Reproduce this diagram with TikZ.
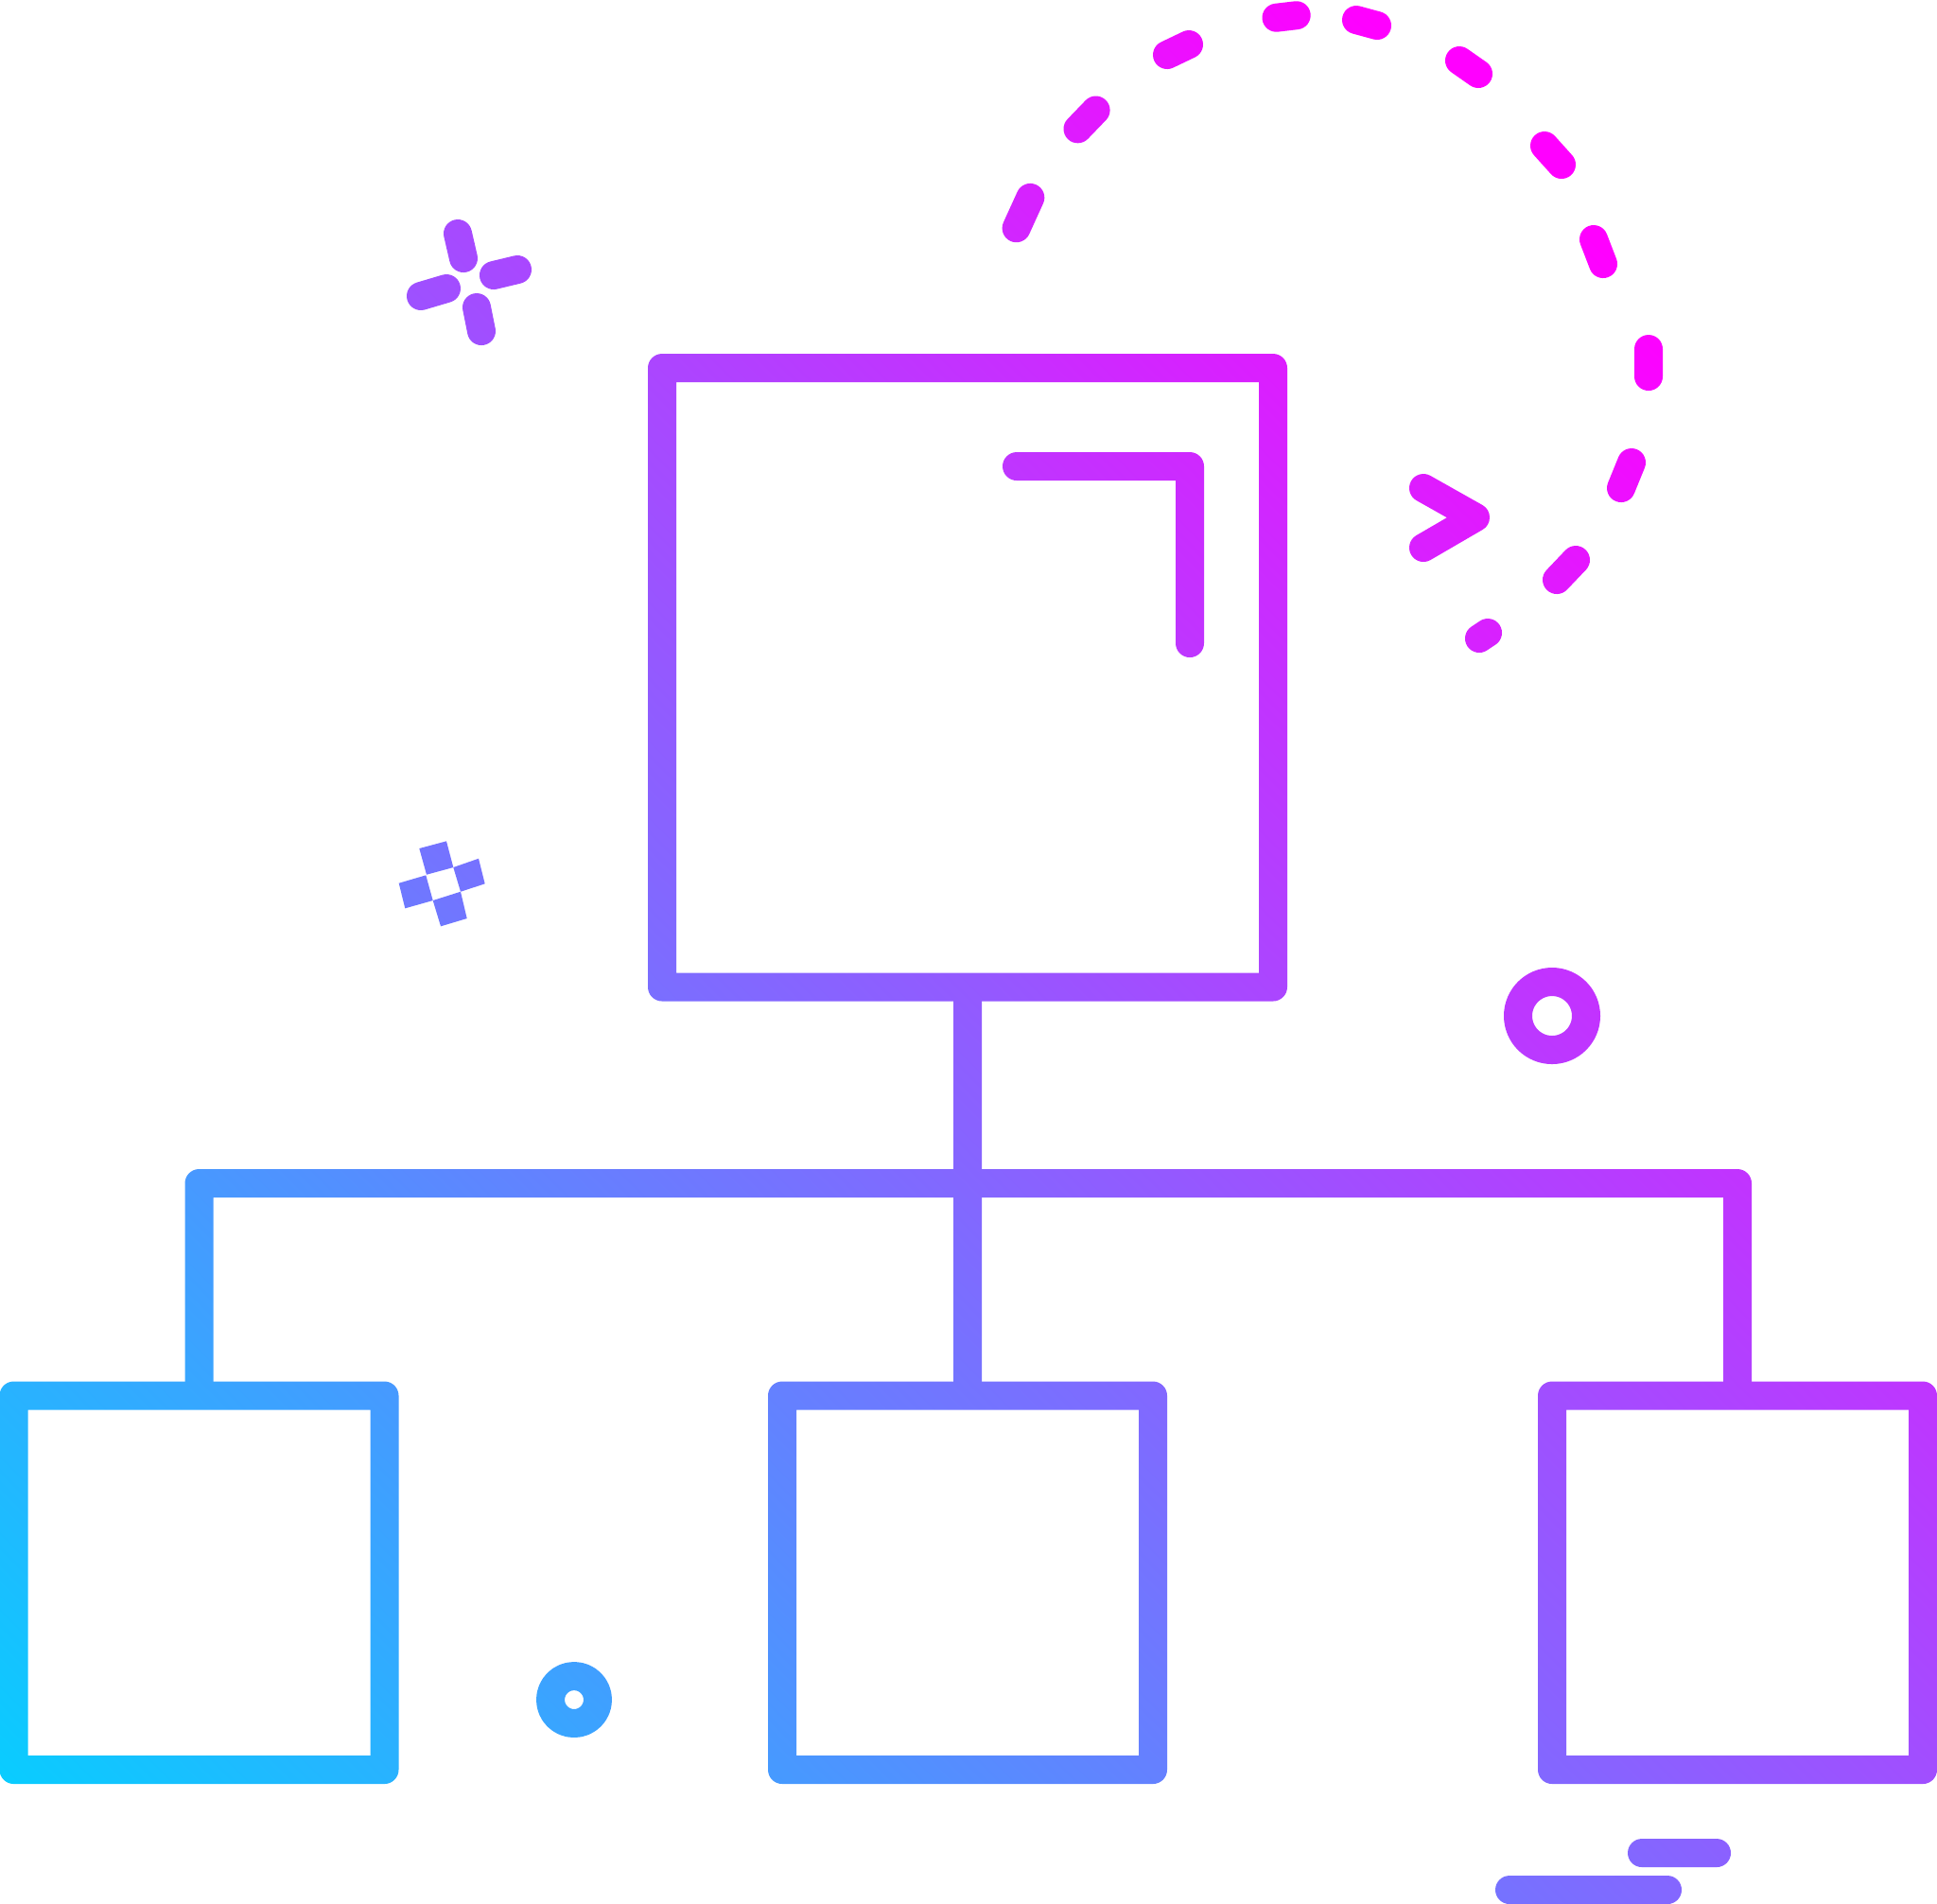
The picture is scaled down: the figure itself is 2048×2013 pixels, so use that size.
\documentclass[tikz,border=0pt]{standalone}
\usetikzlibrary{fadings}
\definecolor{gA}{RGB}{0,212,255}
\definecolor{gB}{RGB}{255,0,255}
\pgfdeclarehorizontalshading{icongrad}{100bp}{color(0bp)=(gA); color(14.6bp)=(gA); color(74.8bp)=(gB); color(100bp)=(gB)}
\tikzset{
  ink/.style={draw=transparent!0, line width=30pt, line cap=round, line join=round},
  wire/.style={draw=transparent!0, line width=30pt, line cap=butt, line join=round},
  box/.style={rectangle, draw=transparent!0, line width=30pt, line join=round, inner sep=0pt, outer sep=0pt, minimum width=392pt, minimum height=395.5pt},
  pix/.style={fill=transparent!0},
}
\begin{document}
\begin{tikzpicture}[x=1pt,y=-1pt]
\begingroup
\let\standalone\relax\let\endstandalone\relax
\begin{tikzfadingfrompicture}[name=iconmask,x=1pt,y=-1pt]
  \useasboundingbox (0,0) rectangle (2048,2013);
  % org chart boxes
  \node[box, minimum width=646pt, minimum height=654.5pt] (topbox) at (1023,716.25) {};
  \node[box] (leftbox) at (210.5,1673.25) {};
  \node[box] (midbox) at (1023,1673.25) {};
  \node[box] (rightbox) at (1837,1673.25) {};
  \coordinate (bar) at (1023,1251);
  \draw[wire] (topbox.south) -- (midbox.north);
  \draw[wire] (leftbox.north) |- (bar) -| (rightbox.north);
  % corner mark inside top box
  \draw[ink] (1075,493) -- (1258,493) -- (1258,680);
  % chevron
  \draw[ink] (1505,516) -- (1560,547) -- (1505,579);
  % sparkle
  \draw[ink] (484,247) -- (490,273);
  \draw[ink] (522,291) -- (547,285);
  \draw[ink] (504,325) -- (509,350);
  \draw[ink] (445,313) -- (472,305);
  % pixel cross
  \fill[pix] (443.3,897) -- (472,889.3) -- (479.3,917) -- (451,924.7) -- cycle;
  \fill[pix] (479.3,917) -- (506,907.7) -- (512.7,934.3) -- (487,942.7) -- cycle;
  \fill[pix] (421.7,933.7) -- (450.3,925.3) -- (457.7,952) -- (428.3,960.3) -- cycle;
  \fill[pix] (457.7,952) -- (487,942.7) -- (493.7,971) -- (466,979.3) -- cycle;
  % rings
  \draw[ink] (1641,1074) circle[radius=36];
  \draw[ink] (607,1797) circle[radius=25];
  % bottom lines
  \draw[ink] (1736,1959) -- (1815,1959);
  \draw[ink] (1596,1998) -- (1763,1998);
  % dashed arc
  \foreach \xa/\ya/\xb/\yb in {
      1074.6/241.2/1089.3/208.9,
      1139.5/136.3/1158.6/116.5,
      1234/58/1257/47,
      1349.5/18.7/1370.7/16.2,
      1434/21/1456/27,
      1543/64/1563/78,
      1633/154/1651/174,
      1685/253/1695/279,
      1743/369/1743/398,
      1725/489/1714/516,
      1666/592/1646/613,
      1573/669/1564/675}
    \draw[ink] (\xa,\ya) -- (\xb,\yb);
\end{tikzfadingfrompicture}
\endgroup
\fill[white] (0,0) rectangle (2048,2013);
\shade[shading=icongrad, shading angle=45, path fading=iconmask, fit fading=false, fading transform={xshift=1024pt,yshift=-1006.5pt}] (0,0) rectangle (2048,2013);
\end{tikzpicture}
\end{document}
